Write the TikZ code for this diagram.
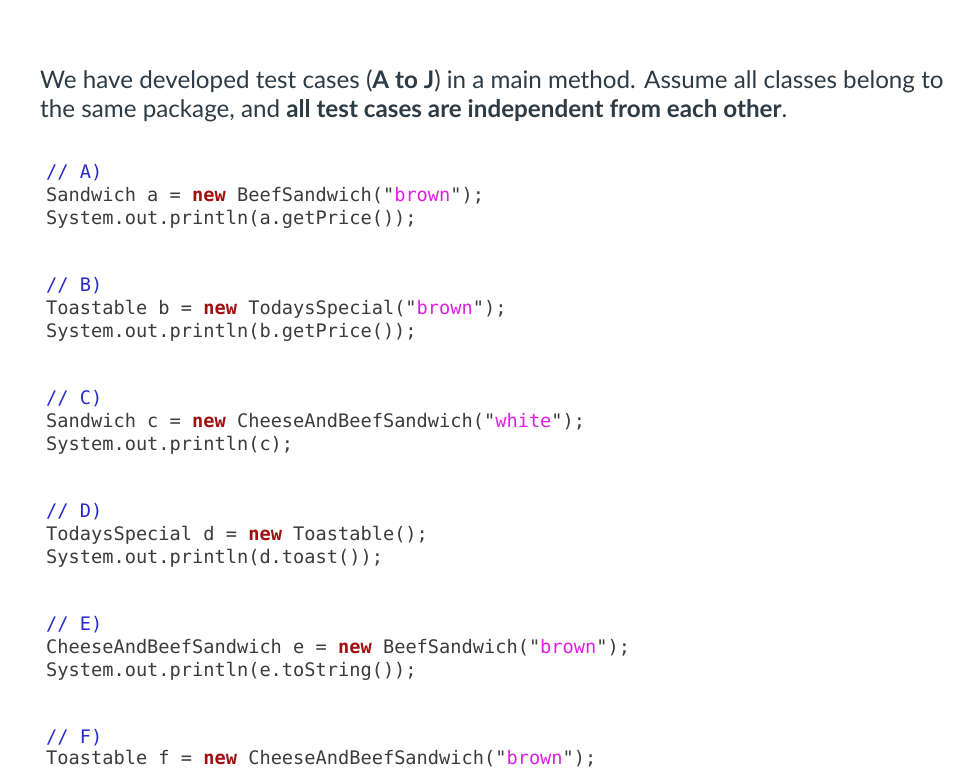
\documentclass[tikz,border=0pt]{standalone}
\usepackage{fontspec}
\setmainfont{Lato}
\setmonofont{DejaVu Sans Mono}
\definecolor{txt}{HTML}{2D3B45}
\definecolor{codecol}{HTML}{3C3C3C}
\definecolor{cmtcol}{HTML}{2A2ACC}
\definecolor{kwcol}{HTML}{A01010}
\definecolor{strcol}{HTML}{E020E0}
\newcommand{\kwd}[1]{\textcolor{kwcol}{\bfseries #1}}
\newcommand{\strg}[1]{\textcolor{strcol}{#1}}
\begin{document}
\begin{tikzpicture}[x=1pt,y=-1pt,
  headline/.style={anchor=base west,inner sep=0,text=txt,font=\fontsize{24.2}{28}\selectfont},
  codeline/.style={anchor=base west,inner sep=0,text=codecol,font=\ttfamily\fontsize{18.65}{22}\selectfont},
  cmtline/.style={codeline,text=cmtcol}]
\useasboundingbox (0,0) rectangle (964,769);
\clip (0,0) rectangle (964,769);
\fill[white] (0,0) rectangle (964,769);
\node[headline] (h1) at (40,88) {We have developed test cases (\textbf{A to J}) in a main method. Assume all classes belong to};
\node[headline] (h2) at (40,117) {the same package, and \textbf{all test cases are independent from each other}.};
\node[cmtline] (a0) at (46,178) {// A)};
\node[codeline] (a1) at (46,201) {Sandwich a = \kwd{new} BeefSandwich("\strg{brown}");};
\node[codeline] (a2) at (46,224) {System.out.println(a.getPrice());};
\node[cmtline] (b0) at (46,291) {// B)};
\node[codeline] (b1) at (46,314) {Toastable b = \kwd{new} TodaysSpecial("\strg{brown}");};
\node[codeline] (b2) at (46,337) {System.out.println(b.getPrice());};
\node[cmtline] (c0) at (46,404) {// C)};
\node[codeline] (c1) at (46,427) {Sandwich c = \kwd{new} CheeseAndBeefSandwich("\strg{white}");};
\node[codeline] (c2) at (46,450) {System.out.println(c);};
\node[cmtline] (d0) at (46,517) {// D)};
\node[codeline] (d1) at (46,540) {TodaysSpecial d = \kwd{new} Toastable();};
\node[codeline] (d2) at (46,563) {System.out.println(d.toast());};
\node[cmtline] (e0) at (46,630) {// E)};
\node[codeline] (e1) at (46,653) {CheeseAndBeefSandwich e = \kwd{new} BeefSandwich("\strg{brown}");};
\node[codeline] (e2) at (46,676) {System.out.println(e.toString());};
\node[cmtline] (f0) at (46,743) {// F)};
\node[codeline] (f1) at (46,764) {Toastable f = \kwd{new} CheeseAndBeefSandwich("\strg{brown}");};
\end{tikzpicture}
\end{document}
